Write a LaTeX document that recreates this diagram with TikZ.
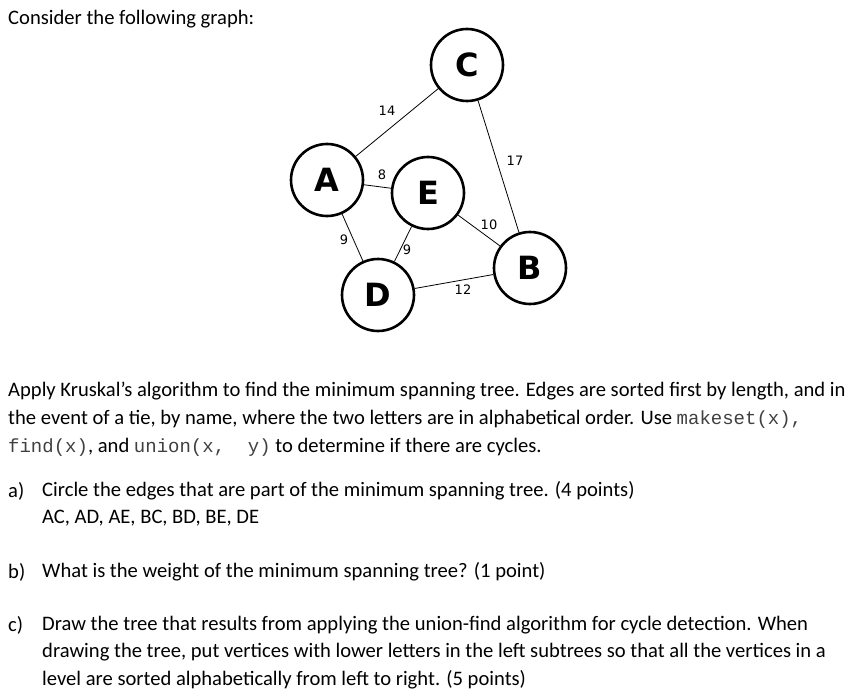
\documentclass[tikz,border=0pt]{standalone}
\usepackage{fontspec}
\setmainfont{Carlito}
\newfontfamily\gfont{DejaVu Sans}
\newfontfamily\cfont{Liberation Mono}
\newcommand{\codetxt}[1]{{\cfont\fontsize{19}{22}\selectfont\color{black!75}#1}}
\begin{document}
\begin{tikzpicture}[x=1pt,y=-1pt,
  vtx/.style={circle,draw,line width=2.6pt,minimum size=72pt,inner sep=0pt,font=\gfont\bfseries\fontsize{32}{34}\selectfont},
  edge/.style={line width=0.8pt},
  wlab/.style={font=\gfont\fontsize{13}{15}\selectfont,inner sep=0pt},
  txt/.style={anchor=west,inner sep=0pt,font=\fontsize{20.6}{24}\selectfont}]
\useasboundingbox (0,0) rectangle (856,695);
\node[txt] (t0) at (8,19) {Consider the following graph:};
\node[vtx] (C) at (467,65) {C};
\node[vtx] (A) at (327,180) {A};
\node[vtx] (E) at (428,193) {E};
\node[vtx] (D) at (378,295) {D};
\node[vtx] (B) at (530,268) {B};
\draw[edge] (A) -- (C); \draw[edge] (C) -- (B); \draw[edge] (A) -- (E);
\draw[edge] (A) -- (D); \draw[edge] (E) -- (D); \draw[edge] (E) -- (B); \draw[edge] (D) -- (B);
\node[wlab] (l14) at (387,111) {14};
\node[wlab] (l17) at (515,161) {17};
\node[wlab] (l8) at (382,175) {8};
\node[wlab] (l9a) at (344,240) {9};
\node[wlab] (l9b) at (407,250) {9};
\node[wlab] (l10) at (489,225) {10};
\node[wlab] (l12) at (463,290) {12};
\node[txt] (p1) at (8,391) {Apply Kruskal’s algorithm to find the minimum spanning tree. Edges are sorted first by length, and in};
\node[txt] (p2) at (8,419) {the event of a tie, by name, where the two letters are in alphabetical order. Use \codetxt{makeset(x),}};
\node[txt] (p3) at (8,447) {\codetxt{find(x)}, and \codetxt{union(x,~ y)} to determine if there are cycles.};
\node[txt] (a0) at (8,491) {a)};
\node[txt] (a1) at (42,491) {Circle the edges that are part of the minimum spanning tree. (4 points)};
\node[txt] (a2) at (42,518) {AC, AD, AE, BC, BD, BE, DE};
\node[txt] (b0) at (8,572) {b)};
\node[txt] (b1) at (42,572) {What is the weight of the minimum spanning tree? (1 point)};
\node[txt] (c0) at (8,625) {c)};
\node[txt] (c1) at (42,625) {Draw the tree that results from applying the union-find algorithm for cycle detection. When};
\node[txt] (c2) at (42,652) {drawing the tree, put vertices with lower letters in the left subtrees so that all the vertices in a};
\node[txt] (c3) at (42,680) {level are sorted alphabetically from left to right. (5 points)};
\end{tikzpicture}
\end{document}
